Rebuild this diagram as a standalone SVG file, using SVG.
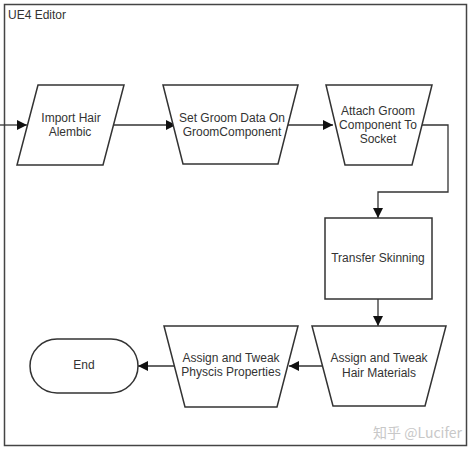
<svg xmlns="http://www.w3.org/2000/svg" width="474" height="452" viewBox="0 0 474 452">
<defs>
<style>
.shape{fill:#fff;stroke:#333;stroke-width:1.5}
.lbl{font-family:"Liberation Sans",Arial,sans-serif;font-size:12px;fill:#333;text-anchor:middle}
.conn{fill:none;stroke:#333;stroke-width:1.3}
</style>
<marker id="arr" viewBox="0 0 10 10" refX="10" refY="5" markerWidth="10" markerHeight="10" markerUnits="userSpaceOnUse" orient="auto">
<path d="M0,0 L10,5 L0,10 z" fill="#111"/>
</marker>
</defs>
<rect width="474" height="452" fill="#fff"/>
<g id="frame">
<rect x="4.5" y="4.5" width="462" height="441" fill="none" stroke="#444" stroke-width="1.5"/>
<text x="8" y="19" style="font-family:'Liberation Sans',Arial,sans-serif;font-size:12px;fill:#333">UE4 Editor</text>
</g>
<g id="connectors">
<path class="conn" d="M0,125 H27" marker-end="url(#arr)"/>
<path class="conn" d="M114,125 H176" marker-end="url(#arr)"/>
<path class="conn" d="M288,125 H333" marker-end="url(#arr)"/>
<path class="conn" d="M422,125 H448 V192 H378 V218" marker-end="url(#arr)"/>
<path class="conn" d="M378,299 V326" marker-end="url(#arr)"/>
<path class="conn" d="M322,366 H289" marker-end="url(#arr)"/>
<path class="conn" d="M175,366 H138" marker-end="url(#arr)"/>
</g>
<g id="import-hair">
<polygon class="shape" points="38,85 124,85 103,165 17,165"/>
<text class="lbl" x="71" y="122">Import Hair</text>
<text class="lbl" x="70" y="136">Alembic</text>
</g>
<g id="set-groom">
<polygon class="shape" points="163,85 298,85 278,164 183,164"/>
<text class="lbl" x="232" y="122">Set Groom Data On</text>
<text class="lbl" x="232" y="136">GroomComponent</text>
</g>
<g id="attach-groom">
<polygon class="shape" points="326,85 432,85 412,165 345,165"/>
<text class="lbl" x="378" y="115">Attach Groom</text>
<text class="lbl" x="378" y="129">Component To</text>
<text class="lbl" x="378" y="143">Socket</text>
</g>
<g id="transfer-skinning">
<rect class="shape" x="325" y="218" width="107" height="81"/>
<text class="lbl" x="378" y="262">Transfer Skinning</text>
</g>
<g id="assign-hair">
<polygon class="shape" points="312,326 446,326 425,406 333,406"/>
<text class="lbl" x="379" y="362">Assign and Tweak</text>
<text class="lbl" x="379" y="377">Hair Materials</text>
</g>
<g id="assign-physics">
<polygon class="shape" points="164,326 298,326 277,407 185,407"/>
<text class="lbl" x="231" y="362">Assign and Tweak</text>
<text class="lbl" x="231" y="376">Physcis Properties</text>
</g>
<g id="end">
<rect class="shape" x="30" y="339" width="108" height="54" rx="27" ry="27"/>
<text class="lbl" x="84" y="369">End</text>
</g>
<text x="462" y="438" style="font-family:'Noto Sans CJK SC','Liberation Sans',sans-serif;font-size:14px;fill:#c8c8c8;text-anchor:end">知乎 @Lucifer</text>
</svg>
